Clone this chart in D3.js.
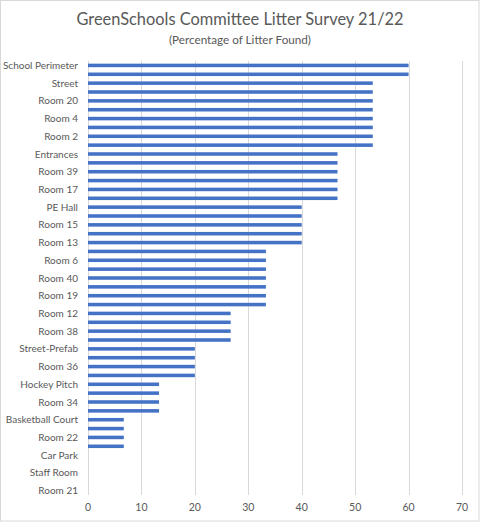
<!DOCTYPE html>
<html>
  <head>
    <title>Litter Survey</title>
    <script src="https://d3js.org/d3.v7.min.js"></script>
    <style>
      body { margin: 0; background: #fff; }
      text { font-family: Lato, sans-serif; fill: #595959; }
    </style>
  </head>
  <body>
    <svg id="plot" width="480" height="522"></svg>

    <script>
      // every category in the chart; "" = label hidden by the axis (too crowded)
      var categories = [
        "School Perimeter", "", "Street", "", "Room 20", "", "Room 4", "", "Room 2", "",
        "Entrances", "", "Room 39", "", "Room 17", "", "PE Hall", "", "Room 15", "",
        "Room 13", "", "Room 6", "", "Room 40", "", "Room 19", "", "Room 12", "",
        "Room 38", "", "Street-Prefab", "", "Room 36", "", "Hockey Pitch", "", "Room 34", "",
        "Basketball Court", "", "Room 22", "", "Car Park", "", "Staff Room", "", "Room 21"
      ];
      var values = [
        60, 60, 53.3, 53.3, 53.3, 53.3, 53.3, 53.3, 53.3, 53.3,
        46.7, 46.7, 46.7, 46.7, 46.7, 46.7, 40, 40, 40, 40,
        40, 33.3, 33.3, 33.3, 33.3, 33.3, 33.3, 33.3, 26.7, 26.7,
        26.7, 26.7, 20, 20, 20, 20, 13.3, 13.3, 13.3, 13.3,
        6.7, 6.7, 6.7, 6.7, 0, 0, 0, 0, 0
      ];
      var xTicks = [0, 10, 20, 30, 40, 50, 60, 70];

      var svg = d3.select("#plot");

      // outer chart border
      svg.append("rect")
        .attr("x", 0.5).attr("y", 0.5)
        .attr("width", 478.5).attr("height", 520.5)
        .attr("fill", "none").attr("stroke", "#d9d9d9");

      svg.append("text")
        .attr("x", 240).attr("y", 25)
        .attr("text-anchor", "middle")
        .style("font-size", "16.4px")
        .text("GreenSchools Committee Litter Survey 21/22");
      svg.append("text")
        .attr("x", 240).attr("y", 44)
        .attr("text-anchor", "middle")
        .style("font-size", "11.7px")
        .text("(Percentage of Litter Found)");

      var x = d3.scaleLinear().domain([0, 70]).range([88, 462]);
      var y = d3.scaleBand()
        .domain(d3.range(categories.length))
        .range([61, 495])
        .paddingInner(0.6).paddingOuter(0.3);

      // gridlines
      svg.append("g")
        .selectAll("line")
        .data(xTicks)
        .join("line")
        .attr("x1", (d) => Math.round(x(d)) + 0.5)
        .attr("x2", (d) => Math.round(x(d)) + 0.5)
        .attr("y1", 61).attr("y2", 495)
        .attr("stroke", "#d9d9d9");

      // x tick labels
      svg.append("g")
        .selectAll("text")
        .data(xTicks)
        .join("text")
        .attr("x", (d) => x(d))
        .attr("y", 511)
        .attr("text-anchor", "middle")
        .style("font-size", "10.5px")
        .text((d) => d);

      // category labels
      svg.append("g")
        .selectAll("text")
        .data(categories)
        .join("text")
        .attr("x", 78)
        .attr("y", (d, i) => y(i) + y.bandwidth() / 2 + 3.5)
        .attr("text-anchor", "end")
        .style("font-size", "10px")
        .text((d) => d);

      // bars
      svg.append("g")
        .selectAll("rect")
        .data(values)
        .join("rect")
        .attr("x", x(0))
        .attr("y", (d, i) => y(i))
        .attr("width", (d) => x(d) - x(0))
        .attr("height", y.bandwidth())
        .attr("fill", "#4472c4");
    </script>
  </body>
</html>
